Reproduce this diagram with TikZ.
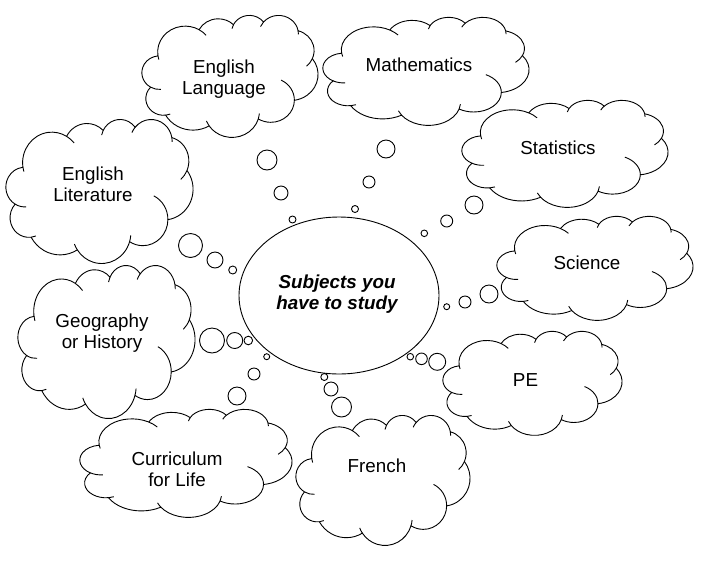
\documentclass[tikz,border=0pt]{standalone}
\usepackage{fontspec}
\setmainfont{Liberation Sans}
\usetikzlibrary{shapes.geometric}
\tikzset{
  cloudline/.style={draw=black, line width=0.9pt},
  bubble/.style={draw=black, line width=0.9pt},
  label/.style={font=\fontsize{18.8}{21.5}\selectfont, align=center, anchor=base, inner sep=0pt},
}
\newcommand{\iarc}[6]{\draw[cloudline] ([shift={(#5:#3 and #4)}]#1,#2) arc[x radius=#3, y radius=#4, start angle=#5, end angle=#6];}
\newcommand{\wcloud}[5]{%
  \pgfmathsetmacro\wcx{#4/43.2}\pgfmathsetmacro\wcy{#5/43.2}%
  \begin{scope}[shift={(#2pt,-#3pt)}, x=\wcx pt, y=-\wcy pt]
    \draw[cloudline] (3.9,14.37)
      arc[x radius=6.753, y radius=9.19,  start angle=-187.747, end angle=-59.637]
      arc[x radius=5.333, y radius=7.267, start angle=-152.03,  end angle=-45.461]
      arc[x radius=4.365, y radius=5.945, start angle=-153.495, end angle=-37.354]
      arc[x radius=4.857, y radius=6.595, start angle=-139.712, end angle=-10.212]
      arc[x radius=5.333, y radius=7.273, start angle=-74.768,  end angle=23.212]
      arc[x radius=6.775, y radius=9.22,  start angle=-37.511,  end angle=81.862]
      arc[x radius=5.785, y radius=7.867, start angle=0.46,     end angle=121.98]
      arc[x radius=6.752, y radius=9.215, start angle=16.844,   end angle=146.228]
      arc[x radius=7.72,  y radius=10.543,start angle=58.985,   end angle=150.166]
      arc[x radius=4.36,  y radius=5.918, start angle=83.306,   end angle=223.108]
      arc[x radius=4.345, y radius=5.945, start angle=120.352,  end angle=264.113]
      -- cycle;
    \iarc{4.308}{20.42}{4.345}{5.945}{85.547}{120.352}
    \iarc{5.295}{29.595}{4.36}{5.918}{68.237}{83.306}
    \iarc{22.089}{34.138}{6.752}{9.215}{146.228}{158.473}
    \iarc{22.089}{34.138}{6.752}{9.215}{4.738}{16.844}
    \iarc{31.615}{30.135}{5.785}{7.867}{-64.03}{0.46}
    \iarc{36.915}{12.59}{5.333}{7.273}{23.212}{49.646}
    \iarc{33.536}{6.741}{4.857}{6.595}{-10.212}{0.821}
    \iarc{33.536}{6.741}{4.857}{6.595}{-156.281}{-139.712}
    \iarc{26.363}{6.084}{4.365}{5.945}{-167.726}{-153.495}
    \iarc{10.591}{13.131}{6.753}{9.19}{-59.637}{-40.232}
    \iarc{10.591}{13.131}{6.753}{9.19}{163.195}{172.253}
    \coordinate (#1) at (21.6,21.6);
  \end{scope}}
\begin{document}
\begin{tikzpicture}[x=1pt, y=-1pt]
\useasboundingbox (0,0) rectangle (701,574);
% clouds
\wcloud{cEL}{142}{15}{176}{122}
\wcloud{cM}{323}{17}{206}{108}
\wcloud{cS}{462}{100}{206}{107}
\wcloud{cSc}{497}{216}{196}{104}
\wcloud{cELit}{6}{119}{187}{144}
\wcloud{cG}{18}{265}{177}{153}
\wcloud{cC}{80}{409}{212}{108}
\wcloud{cF}{296}{415}{174}{130}
\wcloud{cPE}{443}{331}{179}{104}
% centre
\node[ellipse, draw=black, line width=0.9pt, minimum width=200pt, minimum height=157pt, inner sep=0pt] (centre) at (339,295.5) {};
\node[label, font=\fontsize{18.8}{21.5}\selectfont\bfseries\itshape] (tcentre) at (337,309.7) {Subjects you\\have to study};
% labels (two-line labels anchored at the baseline of their last line)
\node[label] (tEL) at (224,94.7) {English\\Language};
\node[label] (tM) at (419,71.7) {Mathematics};
\node[label] (tS) at (558,154) {Statistics};
\node[label] (tSc) at (587,269.3) {Science};
\node[label] (tELit) at (93,201.5) {English\\Literature};
\node[label] (tG) at (102,348.5) {Geography\\or History};
\node[label] (tC) at (177,486.5) {Curriculum\\for Life};
\node[label] (tF) at (377,472.3) {French};
\node[label] (tPE) at (525.5,386) {PE};
% thought bubbles
\foreach \bx/\by/\br in {
  292.5/219.5/3.5, 281/193/7, 267/160/10,
  355/209/3.5, 369/182/6, 386/149/9,
  424.3/233.3/3.3, 446.7/221/6, 474/205/9,
  446.7/306.7/3, 465/302/6, 489/294/9,
  232.7/270/4, 215/260/8, 190.5/245.5/12,
  248.3/340.5/4.3, 234.7/340.5/8, 212/340.5/12.5,
  266.7/356.7/3, 254/374/6, 237/396/9,
  324.3/377/3.5, 331/389/7, 341.5/407/10,
  410.3/356.7/3.3, 421.5/358.8/5.8, 437.2/361.8/8.5}
  \draw[bubble] (\bx,\by) circle[radius=\br];
\end{tikzpicture}
\end{document}
